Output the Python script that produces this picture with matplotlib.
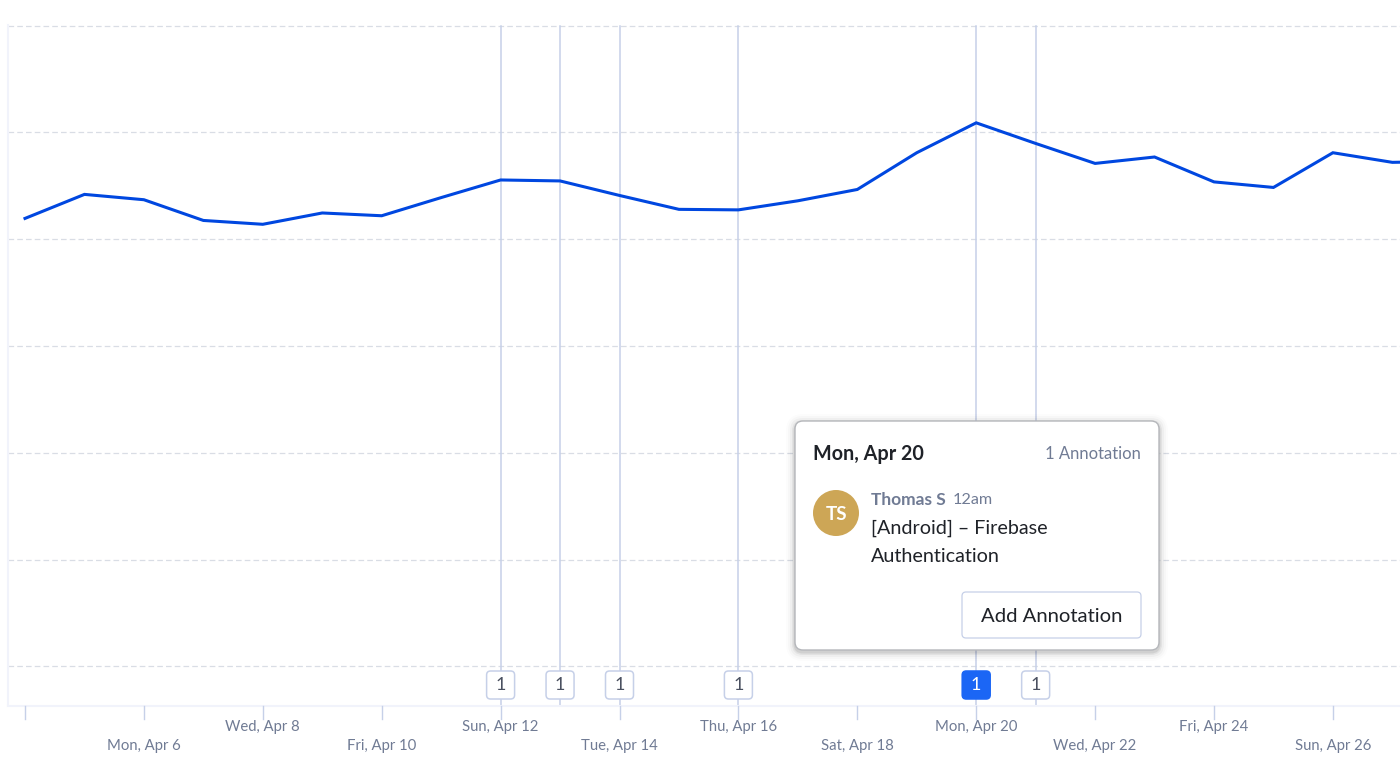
"""Daily line chart with annotation markers and an open annotation tooltip."""

import matplotlib

matplotlib.use("Agg")
import matplotlib.pyplot as plt
from matplotlib.patches import Circle, FancyBboxPatch

plt.rcParams["font.family"] = ["Lato", "DejaVu Sans"]

days = list(range(4, 29))
values = [419.5, 442, 437, 417.6, 414, 424.6, 422, 439, 455.5, 454.6, 441, 428, 427.5,
          436, 446.6, 481, 509, 489.7, 471, 477, 453.7, 448.5, 481, 472, 473]
tick_days = [4, 6, 8, 10, 12, 14, 16, 18, 20, 22, 24, 26]
tick_labels = ["", "Mon, Apr 6", "Wed, Apr 8", "Fri, Apr 10", "Sun, Apr 12", "Tue, Apr 14",
               "Thu, Apr 16", "Sat, Apr 18", "Mon, Apr 20", "Wed, Apr 22", "Fri, Apr 24",
               "Sun, Apr 26"]
grid_values = [0, 100, 200, 300, 400, 500, 600]
annotation_days = [12, 13, 14, 16, 20, 21]
annotation_counts = [1, 1, 1, 1, 1, 1]
active_day = 20

BLUE = "#0047e0"
ACTIVE = "#1b66f5"
RULE = "#c6d0e8"
GRID = "#d9dde5"
EDGE = "#f1f3fb"
MUTED = "#707b94"
DARK = "#1f2228"


def main() -> None:
    fig = plt.figure(figsize=(14, 7.72), dpi=100)
    ax = fig.add_axes([0, 0, 1, 1])
    ax.set_xlim(4 - 25 / 59.45, 4 + (1400 - 25) / 59.45)
    ax.set_ylim(-98.8, 624.0)
    ax.axis("off")

    # overlay in pixels for the interface parts
    ui = fig.add_axes([0, 0, 1, 1], zorder=5)
    ui.set_xlim(0, 1400)
    ui.set_ylim(772, 0)
    ui.axis("off")
    ui.patch.set_alpha(0)

    # frame
    ui.plot([8, 8], [25, 705], color=EDGE, lw=1.5, zorder=1)
    ui.plot([8, 1400], [705.5, 705.5], color=EDGE, lw=1.5, zorder=1)

    # grid
    for g in grid_values:
        ax.plot([ax.get_xlim()[0] + 8 / 59.45, ax.get_xlim()[1]], [g, g], color=GRID, lw=0.9,
                dashes=(4.5, 2.5), zorder=1)

    # annotation rules and the line
    y_low = ax.get_ylim()[0] + (772 - 705) / 1.068
    for d in annotation_days:
        ax.plot([d, d], [y_low, 600], color=RULE, lw=1.1, zorder=2)
    ax.plot(days, values, color=BLUE, lw=2.2, solid_joinstyle="miter", zorder=3)

    # x ticks, labels staggered on two rows
    to_px = lambda d: 25 + (d - 4) * 59.45
    for d, label in zip(tick_days, tick_labels):
        x = to_px(d)
        ui.plot([x, x], [706, 719], color=RULE, lw=1.0, zorder=2)
        y = 727 if (d // 2) % 2 == 0 else 746
        ui.text(x, y, label, color=MUTED, fontsize=10.7, ha="center", va="center")

    # annotation badges
    for d, n in zip(annotation_days, annotation_counts):
        x = to_px(d)
        on = d == active_day
        ui.add_patch(FancyBboxPatch((x - 14, 671), 28, 28, boxstyle="round,pad=0,rounding_size=4",
                                    fc=ACTIVE if on else "white", ec=ACTIVE if on else RULE,
                                    lw=1.1, zorder=4))
        ui.text(x, 685.5, str(n), color="white" if on else "#4a5060", fontsize=13, ha="center",
                va="center", zorder=5)

    # tooltip shadow, then card
    for grow, alpha in [(9, 0.012), (7, 0.02), (5, 0.03), (3, 0.05), (1.5, 0.08)]:
        ui.add_patch(FancyBboxPatch((795 - grow, 423 - grow), 364 + 2 * grow, 229 + 2 * grow,
                                    boxstyle=f"round,pad=0,rounding_size={8 + grow}",
                                    fc="black", ec="none", alpha=alpha, zorder=6))
    ui.add_patch(FancyBboxPatch((795, 421), 364, 229, boxstyle="round,pad=0,rounding_size=8",
                                fc="white", ec="#b5b7bb", lw=1.0, zorder=7))
    ui.text(813, 454, "Mon, Apr 20", color=DARK, fontsize=14.2, fontweight="bold", va="center", zorder=8)
    ui.text(1141, 454, "1 Annotation", color=MUTED, fontsize=12, ha="right", va="center", zorder=8)
    ui.add_patch(Circle((836, 513), 23, fc="#cda656", ec="none", zorder=8))
    ui.text(836, 514, "TS", color="white", fontsize=13.5, fontweight="bold", ha="center", va="center", zorder=9)
    ui.text(871, 500, "Thomas S", color=MUTED, fontsize=12.5, fontweight="bold", va="center", zorder=8)
    ui.text(953, 500, "12am", color=MUTED, fontsize=11.7, va="center", zorder=8)
    ui.text(871, 528, "[Android] – Firebase", color=DARK, fontsize=14.2, va="center", zorder=8)
    ui.text(871, 556, "Authentication", color=DARK, fontsize=14.2, va="center", zorder=8)
    ui.add_patch(FancyBboxPatch((962, 592), 179, 46, boxstyle="round,pad=0,rounding_size=4",
                                fc="white", ec=RULE, lw=0.9, zorder=8))
    ui.text(1051.5, 616, "Add Annotation", color=DARK, fontsize=14.6, ha="center", va="center", zorder=9)

    fig.savefig("out.png", dpi=100)


if __name__ == "__main__":
    main()
